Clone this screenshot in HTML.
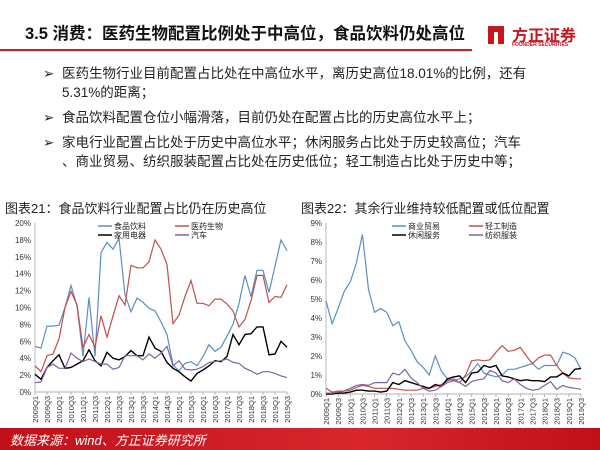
<!DOCTYPE html>
<html><head><meta charset="utf-8"><style>
body{margin:0;width:600px;height:450px;background:#fff;overflow:hidden;position:relative;font-family:"Liberation Sans","Noto Sans CJK SC",sans-serif}
.t{position:absolute;white-space:nowrap}
</style></head><body>
<div class="t" style="left:25px;top:20px;font-size:16.5px;font-weight:bold;color:#111">3.5 消费：医药生物配置比例处于中高位，食品饮料仍处高位</div>
<div style="position:absolute;left:0;top:49px;width:472px;height:2px;background:#c0272d"></div>
<div style="position:absolute;left:0;top:51px;width:472px;height:1px;background:#ddd"></div>
<svg style="position:absolute;left:484px;top:22px" width="24" height="26"><path d="M4 4 H20 V22 H14 V10 H10 V22 H4 Z" fill="#c8161e"/></svg>
<div class="t" style="left:512px;top:22px;font-size:16px;font-weight:bold;color:#c8161e">方正证券</div>
<div class="t" style="left:512px;top:42px;font-size:5px;font-weight:bold;color:#c8161e">FOUNDER SECURITIES</div>
<div style="position:absolute;left:43px;top:64px;font-size:13.5px;line-height:19px;color:#222">
<div style="position:relative;padding-left:19px"><span style="position:absolute;left:0">➢</span>医药生物行业目前配置占比处在中高位水平，离历史高位18.01%的比例，还有<br>5.31%的距离；</div>
<div style="position:relative;padding-left:19px;margin-top:6px"><span style="position:absolute;left:0">➢</span>食品饮料配置仓位小幅滑落，目前仍处在配置占比的历史高位水平上；</div>
<div style="position:relative;padding-left:19px;margin-top:6px"><span style="position:absolute;left:0">➢</span>家电行业配置占比处于历史中高位水平；休闲服务占比处于历史较高位；汽车<br>、商业贸易、纺织服装配置占比处在历史低位；轻工制造占比处于历史中等；</div>
</div>
<div class="t" style="left:5px;top:198px;font-size:13px;color:#222">图表21：食品饮料行业配置占比仍在历史高位</div>
<div class="t" style="left:301px;top:198px;font-size:13px;color:#222">图表22：其余行业维持较低配置或低位配置</div>
<svg id="c" style="position:absolute;left:0;top:0" width="600" height="450"></svg>
<div style="position:absolute;left:0;top:428px;width:600px;height:22px;background:linear-gradient(90deg,#c0101a,#d8262c 60%,#c0101a)"></div>
<div class="t" style="left:10px;top:430px;font-size:13px;font-style:italic;color:#fff">数据来源：wind、方正证券研究所</div>
<script>
var L={b:[5.4,5.2,7.8,7.8,7.9,10,12.6,10.2,4.2,11.2,4.2,16.5,17.7,16.9,18.2,11.5,9.5,11.1,10.6,9.9,9.6,8.3,6.8,3.2,2.5,3.4,3.6,3.1,4.2,5.6,4.8,5.3,6.6,8,10.5,13.8,11.3,14.4,14.4,11.8,14.9,18,16.7],
r:[3.1,2.4,4.3,4.5,6.3,10,11.9,10.3,5.3,6.8,5.3,9,6.5,9,11.4,10.3,15,14.7,14.7,15.4,18,16.9,15.1,8.1,9.1,11.3,13.2,10.5,10.5,10.2,11,11,10.4,9.6,7.7,8.6,10.8,13.8,13.8,10.6,11.3,11.2,12.7],
k:[2.1,1.5,2.9,3.7,4.4,2.8,2.9,3.3,3.7,5,3.7,3.1,4.7,4.0,3.8,4.2,4.9,4.3,4.3,6.5,5.2,4.8,3.5,2.8,2.4,1.8,1.3,2.2,2.6,3.1,3.7,3.6,4.2,6.8,5.6,6.8,6.9,7.7,7.7,4.4,4.5,6,5.3],
p:[1.1,1.2,2.9,3.3,2.8,2.8,4.6,4.0,3.6,3.9,3.6,3.3,3.3,2.7,2.9,4.3,4.3,4.3,3.8,4.5,4.0,4.6,5.4,3.1,3.7,2.7,2.6,2.7,3.0,3.5,3.6,3.7,3.9,3.5,3.4,2.8,2.5,2.1,2.4,2.4,2.2,1.9,1.7]};
var R={b:[4.9,3.7,4.5,5.4,5.9,6.9,8.4,5.5,4.3,4.5,4.3,3.6,3.8,2.8,2.3,1.7,1.4,1.0,2.0,1.2,0.8,0.7,0.8,0.9,1.2,1.6,1.1,1.0,0.9,1.0,1.3,1.3,1.4,1.5,1.6,1.3,1.5,1.5,1.5,2.2,2.1,1.9,1.3],
r:[0.3,0.1,0.15,0.15,0.2,0.35,0.45,0.4,0.3,0.3,0.3,0.3,0.25,0.2,0.2,0.2,0.3,0.3,0.4,0.5,0.7,0.8,0.6,1.0,1.75,1.8,1.75,1.8,2.2,2.55,2.25,2.3,2.45,2.0,1.6,1.9,2.05,2.05,1.5,1.1,0.85,0.8,0.8],
k:[0,0,0.05,0.05,0.1,0.2,0.2,0.15,0.15,0.1,0.15,0.6,0.5,0.7,0.6,0.5,0.4,0.3,0.5,0.4,0.8,0.9,0.95,0.6,1.1,1.15,1.5,1.4,1.5,0.95,0.9,0.8,0.7,0.75,0.7,0.7,0.65,0.9,0.9,1.1,0.95,1.3,1.35],
p:[0.05,0.05,0.1,0.15,0.3,0.45,0.5,0.45,0.6,0.6,0.6,1.1,1.0,1.3,0.85,0.6,0.3,0.15,0.2,0.4,0.6,0.7,0.6,0.4,0.65,0.75,0.8,1.25,1.1,0.7,0.6,0.8,0.5,0.3,0.2,0.25,0.45,0.65,0.25,0.45,0.35,0.3,0.25]};
var col={b:"#5b8ec4",r:"#c0504d",k:"#000",p:"#8064a2"};
var s="";
function chart(D,x0,x1,y0,y1,max,step,names,lx){
 var n=43,dx=(x1-x0)/(n-1);
 s+='<line x1="'+x0+'" y1="'+y0+'" x2="'+x0+'" y2="'+y1+'" stroke="#999" stroke-width="0.7"/>';
 s+='<line x1="'+x0+'" y1="'+y0+'" x2="'+x1+'" y2="'+y0+'" stroke="#999" stroke-width="0.7"/>';
 for(var v=0;v<=max;v+=step){var y=y0-(y0-y1)*v/max;
  s+='<text x="'+(x0-4)+'" y="'+(y+3)+'" font-size="8" text-anchor="end" fill="#333">'+v+'%</text>';}
 for(var i=0;i<n;i+=2){var x=x0+i*dx;var yr=2009+Math.floor(i/4);var q=(i%4==0)?"Q1":"Q3";
  s+='<line x1="'+x+'" y1="'+y0+'" x2="'+x+'" y2="'+(y0+3)+'" stroke="#999" stroke-width="0.7"/>';
  s+='<text transform="translate('+(x+3)+','+(y0+4)+') rotate(-90)" font-size="7.5" text-anchor="end" fill="#333">'+yr+q+'</text>';}
 ["b","r","k","p"].forEach(function(k){var d=D[k],pts=[];
  for(var i=0;i<d.length;i++)pts.push((x0+i*dx).toFixed(1)+","+(y0-(y0-y1)*d[i]/max).toFixed(1));
  s+='<polyline points="'+pts.join(" ")+'" fill="none" stroke="'+col[k]+'" stroke-width="'+(k=="k"?1.4:1.2)+'"/>';});
 var pos=[[lx,y1+3],[lx+77,y1+3],[lx,y1+12],[lx+77,y1+12]],ks=["b","r","k","p"];
 for(var j=0;j<4;j++){var p=pos[j];
  s+='<line x1="'+p[0]+'" y1="'+p[1]+'" x2="'+(p[0]+14)+'" y2="'+p[1]+'" stroke="'+col[ks[j]]+'" stroke-width="1.5"/>';
  s+='<text x="'+(p[0]+16)+'" y="'+(p[1]+3)+'" font-size="8" fill="#222">'+names[j]+'</text>';}
}
chart(L,35,287,392,223,20,2,["食品饮料","医药生物","家用电器","汽车"],98);
chart(R,326,581,394,223,9,1,["商业贸易","轻工制造","休闲服务","纺织服装"],392);
document.getElementById("c").innerHTML=s;
</script>
</body></html>
